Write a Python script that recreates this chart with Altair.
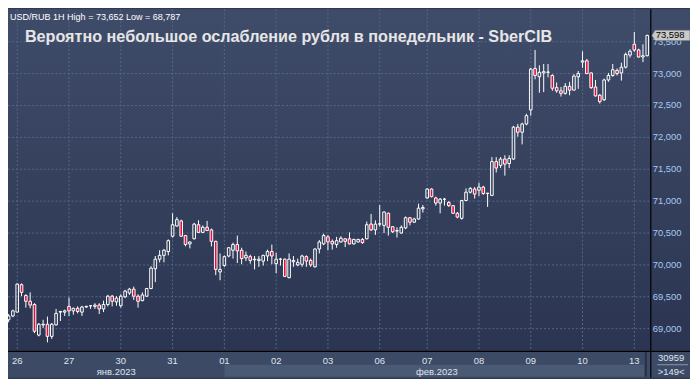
import altair as alt
import pandas as pd

# ---- data (USD/RUB 1H candles) ----
opens = [69.14, 69.20, 69.26, 69.69, 69.52, 69.43, 69.38, 68.90, 69.06, 69.07,
         68.88, 69.06, 69.26, 69.26, 69.35, 69.28, 69.32, 69.26, 69.34, 69.36,
         69.35, 69.37, 69.31, 69.38, 69.51, 69.42, 69.36, 69.50, 69.56, 69.62,
         69.51, 69.44, 69.51, 69.63, 69.94, 70.09, 70.15, 70.21, 70.45, 70.61,
         70.69, 70.46, 70.33, 70.41, 70.63, 70.51, 70.59, 70.55, 70.37, 69.89,
         69.99, 70.14, 70.23, 70.32, 70.23, 70.11, 70.13, 70.08, 70.07, 70.06,
         70.14, 70.21, 70.02, 70.09, 70.09, 69.80, 70.07, 70.00, 70.01, 70.13,
         70.07, 69.97, 70.25, 70.33, 70.44, 70.37, 70.32, 70.36, 70.41, 70.41,
         70.33, 70.36, 70.40, 70.41, 70.64, 70.55, 70.64, 70.62, 70.81, 70.60,
         70.53, 70.50, 70.58, 70.74, 70.67, 70.72, 70.88, 71.05, 71.19, 71.05,
         70.97, 71.03, 70.98, 70.93, 70.81, 70.73, 71.01, 71.14, 71.19, 71.17,
         71.22, 71.12, 71.09, 71.62, 71.56, 71.66, 71.59, 71.66, 72.16, 72.08,
         72.21, 72.43, 73.08, 72.95, 73.01, 73.02, 72.97, 72.78, 72.73, 72.69,
         72.80, 72.74, 72.95, 73.18, 73.20, 73.01, 72.79, 72.66, 72.59, 72.90,
         72.97, 73.05, 73.01, 73.10, 73.29, 73.46, 73.37, 73.26, 73.28]
highs = [69.23, 69.30, 69.71, 69.71, 69.54, 69.57, 69.40, 69.09, 69.14, 69.19,
         69.09, 69.31, 69.28, 69.30, 69.49, 69.33, 69.35, 69.36, 69.36, 69.36,
         69.40, 69.40, 69.44, 69.53, 69.53, 69.51, 69.54, 69.61, 69.64, 69.66,
         69.54, 69.57, 69.64, 69.98, 70.14, 70.23, 70.25, 70.40, 70.81, 70.75,
         70.71, 70.47, 70.37, 70.66, 70.70, 70.62, 70.69, 70.57, 70.38, 70.18,
         70.15, 70.28, 70.35, 70.46, 70.27, 70.21, 70.16, 70.14, 70.14, 70.16,
         70.24, 70.32, 70.19, 70.11, 70.10, 70.18, 70.14, 70.10, 70.16, 70.15,
         70.10, 70.26, 70.39, 70.49, 70.47, 70.40, 70.44, 70.45, 70.42, 70.51,
         70.41, 70.41, 70.42, 70.68, 70.80, 70.70, 70.94, 70.84, 70.82, 70.60,
         70.59, 70.62, 70.76, 70.75, 70.74, 70.96, 70.94, 71.20, 71.20, 71.07,
         71.05, 71.05, 71.00, 70.94, 70.83, 71.02, 71.20, 71.22, 71.22, 71.29,
         71.24, 71.13, 71.69, 71.69, 71.69, 71.72, 71.72, 72.18, 72.21, 72.23,
         72.37, 73.09, 73.37, 73.13, 73.15, 73.15, 72.99, 72.86, 72.79, 72.85,
         72.87, 72.99, 73.04, 73.35, 73.23, 73.02, 72.90, 72.68, 72.92, 73.01,
         73.15, 73.08, 73.17, 73.33, 73.38, 73.652, 73.39, 73.46, 73.61]
lows = [69.10, 69.18, 69.26, 69.51, 69.33, 69.32, 68.93, 68.88, 69.01, 68.787,
        68.84, 69.05, 69.12, 69.20, 69.20, 69.22, 69.24, 69.20, 69.33, 69.31,
        69.31, 69.23, 69.26, 69.35, 69.35, 69.36, 69.33, 69.48, 69.53, 69.45,
        69.33, 69.43, 69.50, 69.62, 69.73, 70.04, 70.04, 70.15, 70.43, 70.60,
        70.44, 70.29, 70.26, 70.40, 70.50, 70.50, 70.53, 70.29, 69.84, 69.76,
        69.97, 70.12, 70.10, 70.03, 70.01, 70.06, 70.02, 69.93, 69.97, 69.99,
        70.06, 70.01, 69.87, 69.99, 69.81, 69.79, 69.97, 69.98, 69.97, 69.97,
        69.97, 69.96, 70.18, 70.31, 70.23, 70.24, 70.27, 70.35, 70.28, 70.32,
        70.32, 70.35, 70.33, 70.40, 70.53, 70.47, 70.60, 70.50, 70.46, 70.50,
        70.43, 70.49, 70.56, 70.62, 70.66, 70.71, 70.82, 71.04, 71.06, 70.93,
        70.81, 70.93, 70.91, 70.80, 70.73, 70.71, 71.00, 71.12, 71.04, 71.08,
        71.10, 70.91, 71.08, 71.45, 71.52, 71.40, 71.52, 71.65, 72.01, 71.89,
        72.19, 72.34, 72.91, 72.70, 72.71, 72.94, 72.73, 72.70, 72.64, 72.67,
        72.66, 72.74, 72.76, 73.09, 72.99, 72.76, 72.64, 72.53, 72.57, 72.87,
        72.95, 72.97, 72.89, 73.08, 73.25, 73.34, 73.25, 73.18, 73.27]
closes = [69.20, 69.28, 69.70, 69.57, 69.43, 69.37, 68.96, 69.07, 69.07, 68.88,
          69.07, 69.24, 69.27, 69.28, 69.28, 69.32, 69.27, 69.34, 69.35, 69.36,
          69.37, 69.31, 69.38, 69.51, 69.43, 69.48, 69.51, 69.59, 69.62, 69.51,
          69.43, 69.53, 69.63, 69.95, 70.09, 70.15, 70.23, 70.38, 70.63, 70.71,
          70.45, 70.32, 70.36, 70.64, 70.51, 70.59, 70.54, 70.37, 69.93, 69.93,
          70.13, 70.27, 70.32, 70.22, 70.10, 70.15, 70.07, 70.09, 70.09, 70.15,
          70.21, 70.14, 70.09, 70.09, 69.82, 70.09, 70.05, 70.04, 70.14, 70.06,
          70.00, 70.25, 70.36, 70.46, 70.36, 70.33, 70.38, 70.42, 70.37, 70.33,
          70.40, 70.40, 70.35, 70.63, 70.55, 70.64, 70.645, 70.83, 70.59, 70.52,
          70.54, 70.59, 70.74, 70.67, 70.72, 70.89, 70.90, 71.19, 71.07, 70.97,
          71.03, 71.03, 70.93, 70.81, 70.75, 71.01, 71.14, 71.20, 71.11, 71.22,
          71.12, 71.125, 71.62, 71.52, 71.66, 71.58, 71.67, 72.16, 72.08, 72.21,
          72.34, 73.07, 72.97, 73.02, 73.03, 73.025, 72.77, 72.73, 72.69, 72.80,
          72.74, 72.96, 73.00, 73.20, 73.00, 72.78, 72.65, 72.56, 72.90, 72.97,
          73.06, 73.00, 73.10, 73.30, 73.35, 73.37, 73.26, 73.28, 73.598]

day_labels = ["26", "27", "30", "31", "01", "02", "03", "06", "07", "08", "09", "10", "13"]
day_start = [2, 14, 26, 38, 50, 62, 74, 86, 97, 109, 121, 133, 145]
month_labels = ["янв.2023", "фев.2023"]
y_ticks = [69.0, 69.5, 70.0, 70.5, 71.0, 71.5, 72.0, 72.5, 73.0, 73.5]

info_text = "USD/RUB 1H High = 73,652 Low = 68,787"
title_text = "Вероятно небольшое ослабление рубля в понедельник - SberCIB"
bar_count_text = "30959"
bars_text = ">149<"

# ---- derived tables ----
n = len(opens)
df = pd.DataFrame({"i": list(range(n)), "o": opens, "h": highs, "l": lows, "c": closes})
df["top"] = df[["o", "c"]].max(axis=1)
df["bot"] = df[["o", "c"]].min(axis=1)
df["dir"] = ["up" if c >= o else "down" for o, c in zip(opens, closes)]
df["xa"] = df["i"] - 0.3
df["xb"] = df["i"] + 0.3

days = pd.DataFrame({"i": day_start, "lab": day_labels})
xmin, xmax = -0.139, 148.47
months = pd.DataFrame({
    "lab": month_labels,
    "i": [(xmin + day_start[4]) / 2, (day_start[4] + xmax) / 2],
})
yt = pd.DataFrame({"v": y_ticks,
                   "lab": [f"{v:.3f}".replace(".", ",") for v in y_ticks]})
last = pd.DataFrame({"v": [closes[-1]], "lab": [f"{closes[-1]:.3f}".replace(".", ",")]})
one = pd.DataFrame({"k": [0]})

W, H = 646, 344
TOTW, TOTH = 687, 371
xs = alt.Scale(domain=[xmin, xmax], nice=False, zero=False)
ys = alt.Scale(domain=[68.653, 74.007], nice=False, zero=False)
FONT = "Liberation Sans"
GRID = "#566789"

grad = alt.LinearGradient(
    gradient="linear",
    stops=[alt.GradientStop(color="#3f4c69", offset=0),
           alt.GradientStop(color="#2b3551", offset=1)],
    x1=0, x2=0, y1=0, y2=1)

bg = alt.Chart(one).mark_rect(fill=grad).encode(
    x=alt.value(0), x2=alt.value(TOTW), y=alt.value(0), y2=alt.value(H))
band = alt.Chart(one).mark_rect(fill="#3d4a66").encode(
    x=alt.value(0), x2=alt.value(TOTW), y=alt.value(H), y2=alt.value(TOTH))
feb_band = alt.Chart(pd.DataFrame({"i": [day_start[4]]})).mark_rect(fill="#4a5974").encode(
    x=alt.X("i:Q", scale=xs, axis=None), x2=alt.value(641),
    y=alt.value(358), y2=alt.value(370))
scroll = alt.Chart(one).mark_rect(fill="#283047").encode(
    x=alt.value(641.5), x2=alt.value(643.5), y=alt.value(345), y2=alt.value(370))

vgrid = alt.Chart(days).mark_rule(color=GRID, strokeDash=[2, 2], strokeWidth=1).encode(
    x=alt.X("i:Q", scale=xs, axis=None))
hgrid = alt.Chart(yt).mark_rule(color=GRID, strokeDash=[2, 2], strokeWidth=1).encode(
    y=alt.Y("v:Q", scale=ys, axis=None))

wick_up = alt.Chart(df).mark_rule(color="#ffffff", strokeWidth=1).encode(
    x=alt.X("i:Q", scale=xs, axis=None),
    y=alt.Y("h:Q", scale=ys, axis=None), y2="top:Q")
wick_dn = alt.Chart(df).mark_rule(color="#ffffff", strokeWidth=1).encode(
    x=alt.X("i:Q", scale=xs, axis=None),
    y=alt.Y("bot:Q", scale=ys, axis=None), y2="l:Q")
body = alt.Chart(df).mark_rect(stroke="#ffffff", strokeWidth=1).encode(
    x=alt.X("xa:Q", scale=xs, axis=None), x2="xb:Q",
    y=alt.Y("top:Q", scale=ys, axis=None), y2="bot:Q",
    fill=alt.Fill("dir:N", scale=alt.Scale(domain=["up", "down"],
                                            range=["rgba(0,0,0,0)", "#e0103c"]),
                  legend=None))

day_text = alt.Chart(days).mark_text(font=FONT, fontSize=9.5, color="#dfe5ef",
                                     baseline="alphabetic", align="center").encode(
    x=alt.X("i:Q", scale=xs, axis=None), y=alt.value(357), text="lab:N")
month_text = alt.Chart(months).mark_text(font=FONT, fontSize=9.5, color="#dfe5ef",
                                         baseline="alphabetic", align="center").encode(
    x=alt.X("i:Q", scale=xs, axis=None), y=alt.value(368), text="lab:N")
ylab = alt.Chart(yt).mark_text(font=FONT, fontSize=9.5, color="#a9c8f2",
                               baseline="middle", align="left").encode(
    x=alt.value(649.5), y=alt.Y("v:Q", scale=ys, axis=None), text="lab:N")

vline = alt.Chart(one).mark_rule(color="#000000", strokeWidth=1.2).encode(
    x=alt.value(647.5), y=alt.value(0), y2=alt.value(TOTH))
hline = alt.Chart(one).mark_rule(color="#000000", strokeWidth=1.2).encode(
    x=alt.value(0), x2=alt.value(TOTW), y=alt.value(344.5))
sep = alt.Chart(one).mark_rule(color="#8a98b0", strokeWidth=1).encode(
    x=alt.value(654), x2=alt.value(685), y=alt.value(358))

box_path = "M-1,0L-0.83,-0.27L1,-0.27L1,0.27L-0.83,0.27Z"
pbox = alt.Chart(last).mark_point(shape=box_path, filled=True, fill="#c9c9c9",
                                  stroke="#7f7f7f", strokeWidth=0.6, size=1467,
                                  opacity=1).encode(
    x=alt.value(667.8), y=alt.Y("v:Q", scale=ys, axis=None))
ptext = alt.Chart(last).mark_text(font=FONT, fontSize=9.5, color="#000000",
                                  baseline="middle", align="left").encode(
    x=alt.value(652.5), y=alt.Y("v:Q", scale=ys, axis=None), text="lab:N")

cnt1 = alt.Chart(one).mark_text(font=FONT, fontSize=9.5, color="#dfe5ef",
                                align="center", baseline="middle",
                                text=bar_count_text).encode(
    x=alt.value(668), y=alt.value(351.5))
cnt2 = alt.Chart(one).mark_text(font=FONT, fontSize=9.5, color="#dfe5ef",
                                align="center", baseline="middle",
                                text=bars_text).encode(
    x=alt.value(668), y=alt.value(365.5))

info = alt.Chart(one).mark_text(font=FONT, fontSize=9.1, color="#ffffff",
                                align="left", baseline="alphabetic",
                                text=info_text).encode(
    x=alt.value(2), y=alt.value(10.5))
title = alt.Chart(one).mark_text(font=FONT, fontSize=16.3, fontWeight="bold",
                                 color="#e6e6e6", align="left", baseline="alphabetic",
                                 text=title_text).encode(
    x=alt.value(17), y=alt.value(33))

chart = alt.layer(
    bg, band, feb_band, scroll, vgrid, hgrid, ylab, wick_up, wick_dn, body,
    day_text, month_text, vline, hline, sep, pbox, ptext, cnt1, cnt2, info, title
).properties(
    width=W, height=H,
    autosize=alt.AutoSizeParams(type="none"),
    padding={"left": 0, "top": 0, "right": TOTW - W, "bottom": TOTH - H},
    background="#2f3a55",
).configure_view(stroke=None)

chart.save("out.html", embed_options={"renderer": "svg", "actions": False})
